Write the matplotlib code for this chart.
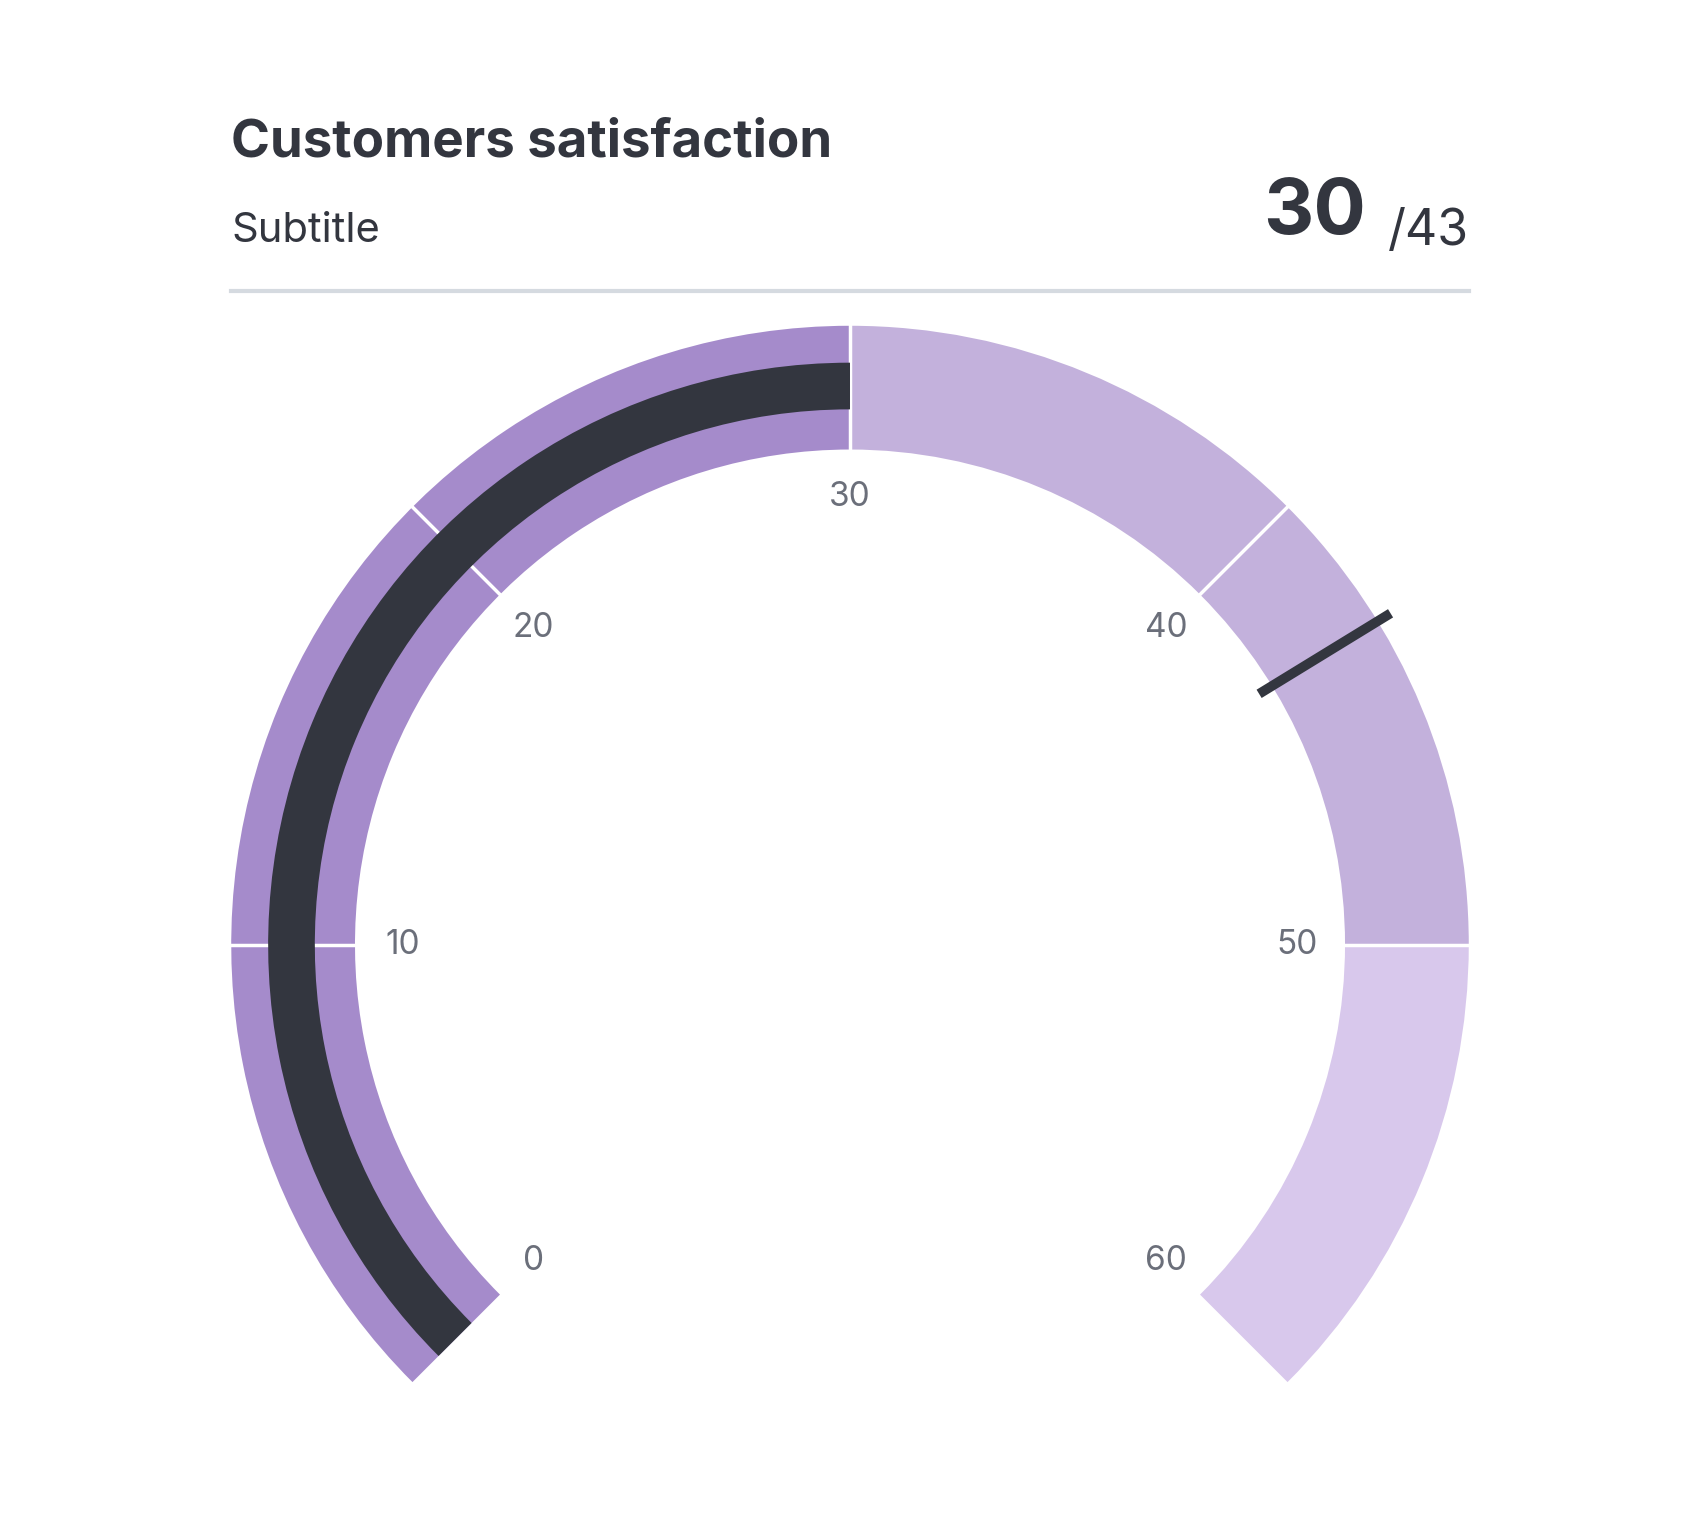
import matplotlib
matplotlib.use("Agg")
import matplotlib.pyplot as plt
from matplotlib.patches import Wedge
import numpy as np

plt.rcParams['font.family'] = ['Inter', 'DejaVu Sans']

title = "Customers satisfaction"
subtitle = "Subtitle"
value = 30
target = 43
vmin, vmax = 0, 60
bands = [(0, 30, '#a58bcb'), (30, 50, '#c3b1dc'), (50, 60, '#d8c8ec')]
separators = [10, 20, 30, 40, 50]
ticks = [0, 10, 20, 30, 40, 50, 60]

W, H = 1566, 1400
fig = plt.figure(figsize=(17, 15.2), dpi=100)
ax = fig.add_axes([0, 0, 1, 1])
ax.set_xlim(0, W); ax.set_ylim(0, H); ax.set_aspect('equal'); ax.axis('off')

cx, cy = 783, H - 870
R_out, R_in = 570, 456

def ang(v):
    return 225 - 270 * (v - vmin) / (vmax - vmin)

for a, b, c in bands:
    ax.add_patch(Wedge((cx, cy), R_out, ang(b), ang(a), width=R_out - R_in, facecolor=c, edgecolor='none'))
for s in separators:
    t = np.radians(ang(s))
    ax.plot([cx + R_in*np.cos(t), cx + R_out*np.cos(t)], [cy + R_in*np.sin(t), cy + R_out*np.sin(t)],
            color='white', lw=2.5, zorder=3)
# value bar
ax.add_patch(Wedge((cx, cy), 536, ang(value), ang(vmin), width=43, facecolor='#33363f', edgecolor='none', zorder=4))
# target marker
t = np.radians(ang(target))
ax.plot([cx + 442*np.cos(t), cx + 584*np.cos(t)], [cy + 442*np.sin(t), cy + 584*np.sin(t)],
        color='#33363f', lw=7, solid_capstyle='butt', zorder=5)
# tick labels
for v in ticks:
    t = np.radians(ang(v))
    r = 412
    ax.text(cx + r*np.cos(t), cy + r*np.sin(t), str(v), ha='center', va='center', fontsize=24, color='#6b6f7a')

ax.text(213, H - 132, title, fontsize=38, fontweight='bold', color='#33363f', va='center', ha='left')
ax.text(213, H - 213, subtitle, fontsize=30, color='#33363f', va='center', ha='left')
ax.text(1353, H - 213, f"/{target}", fontsize=36, color='#33363f', va='center', ha='right')
ax.text(1258, H - 197, f"{value}", fontsize=56, fontweight='bold', color='#33363f', va='center', ha='right')
ax.plot([213, 1353], [H - 268, H - 268], color='#d5dae0', lw=3)

fig.savefig("out.png", dpi=100, facecolor='white')
